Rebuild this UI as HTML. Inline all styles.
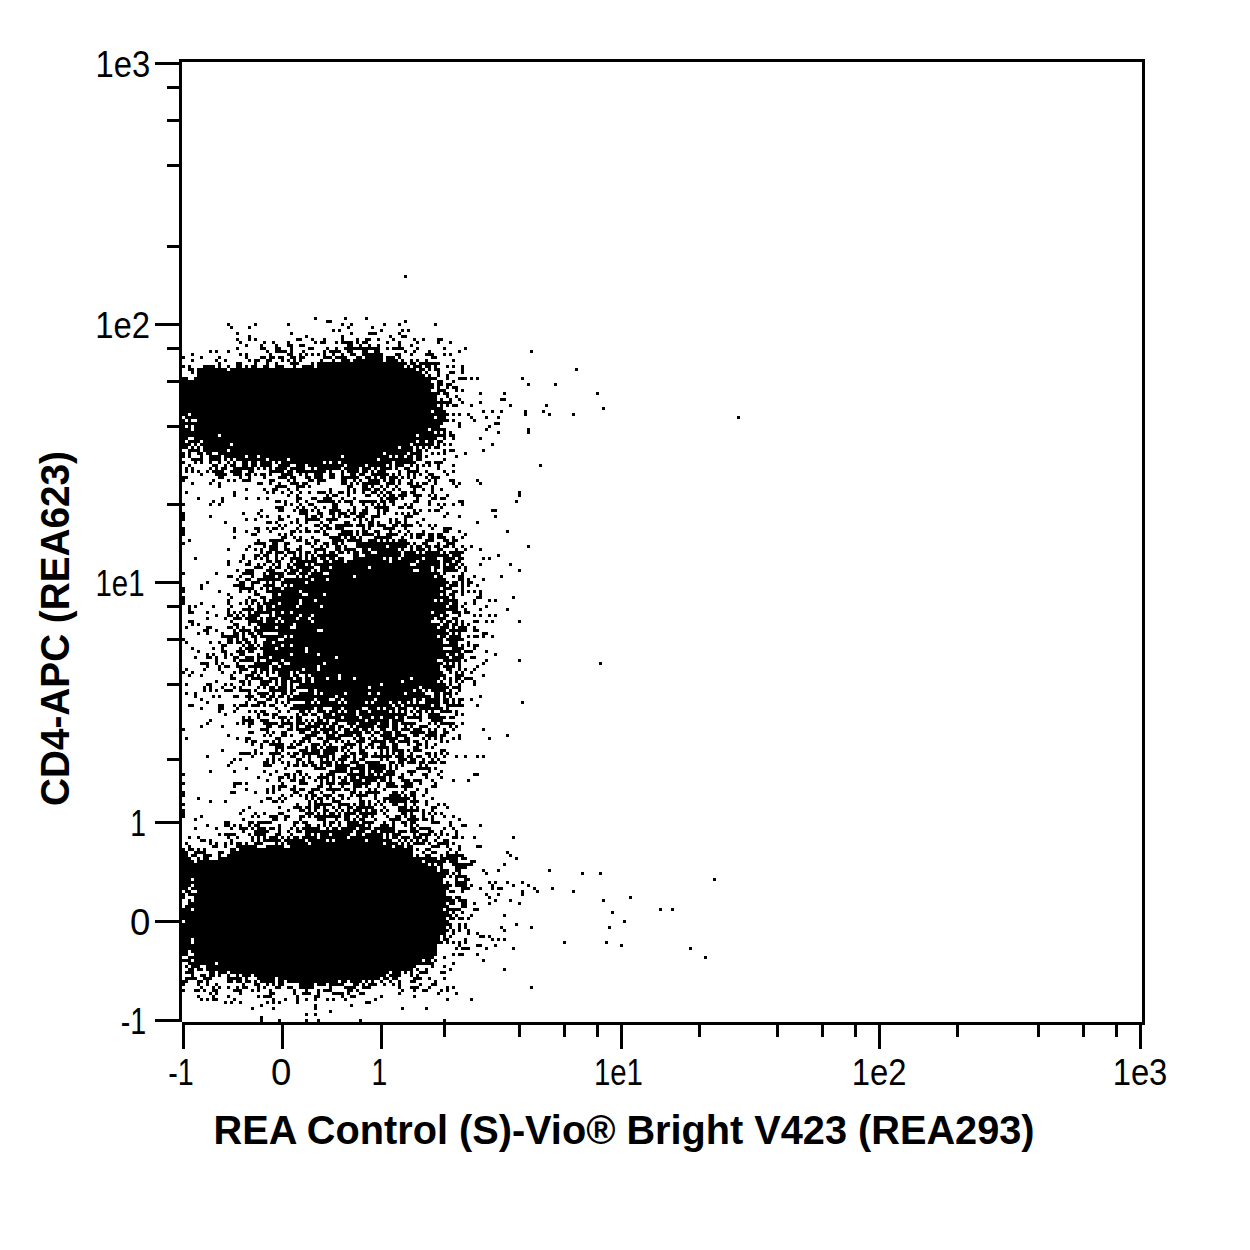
<!DOCTYPE html>
<html><head><meta charset="utf-8"><title>CD4-APC vs REA Control dot plot</title>
<style>html,body{margin:0;padding:0;background:#fff;width:1250px;height:1250px;overflow:hidden}svg{display:block}</style>
</head><body>
<svg width="1250" height="1250" viewBox="0 0 1250 1250">
<rect width="1250" height="1250" fill="#fff"/>
<path transform="translate(182 62) scale(3)" stroke="#000" stroke-width="1" fill="none" shape-rendering="crispEdges" d="M74 71.5h1M44 85.5h1m9 0h1m6 0h1M48 86.5h2m24 0h1M15 87.5h1m8 0h1m10 0h1m17 0h1m2 0h1m10 0h1m4 0h1m11 0h1M16 88.5h1m5 0h1m32 0h1m7 0h1M50 89.5h1m1 0h1m13 0h1m6 0h1m1 0h1M18 90.5h1m17 0h1m19 0h1m5 0h3m7 0h1M22 91.5h1m18 0h1m11 0h1m15 0h1m3 0h2M18 92.5h1m3 0h1m1 0h1m13 0h2m3 0h1m3 0h1m5 0h1m4 0h1m2 0h2m2 0h1m4 0h1m6 0h1m2 0h1m4 0h2M19 93.5h1m7 0h1m2 0h1m4 0h1m8 0h1m1 0h2m3 0h1m1 0h4m1 0h1m1 0h2m6 0h1m3 0h1m5 0h1m6 0h1m3 0h1M21 94.5h1m4 0h1m4 0h1m3 0h2m2 0h2m14 0h2m2 0h1m2 0h1m2 0h1m6 0h1m3 0h1M18 95.5h1m7 0h2m3 0h2m3 0h1m5 0h2m4 0h1m2 0h1m2 0h12m2 0h1m1 0h4m4 0h1m8 0h1m6 0h1M9 96.5h1m1 0h1m3 0h1m12 0h1m2 0h4m1 0h1m3 0h1m6 0h1m1 0h4m2 0h2m3 0h2m2 0h2m8 0h1m2 0h1m4 0h1m9 0h1m23 0h1M3 97.5h1m15 0h1m1 0h1m7 0h1m5 0h2m2 0h1m1 0h1m1 0h1m1 0h1m1 0h1m2 0h1m2 0h1m2 0h2m2 0h7m4 0h2m3 0h1m4 0h3m3 0h1m1 0h1M0 98.5h1m5 0h1m5 0h1m8 0h1m4 0h2m1 0h2m1 0h2m2 0h2m1 0h2m6 0h3m1 0h4m3 0h2m1 0h6m1 0h3m1 0h1m10 0h2M3 99.5h1m7 0h1m2 0h1m7 0h1m1 0h2m2 0h2m3 0h1m1 0h1m1 0h1m1 0h1m6 0h1m3 0h1m2 0h3m1 0h10m1 0h4m1 0h1m2 0h1m1 0h1m2 0h1m8 0h1M12 100.5h1m5 0h2m4 0h1m3 0h1m2 0h1m4 0h3m4 0h1m1 0h30m1 0h2m1 0h7M0 101.5h1m1 0h1m4 0h4m1 0h1m2 0h1m2 0h2m1 0h1m1 0h2m2 0h2m2 0h3m3 0h1m2 0h4m1 0h29m1 0h1m1 0h3m1 0h2m1 0h1m3 0h1m1 0h1m2 0h1M2 102.5h2m1 0h10m1 0h62m1 0h2m1 0h1m1 0h2m7 0h1m37 0h1M3 103.5h1m1 0h75m1 0h1m3 0h1m3 0h2m2 0h1M5 104.5h76m1 0h1m2 0h1m2 0h1M0 105.5h2m2 0h81m3 0h1m3 0h3m1 0h1m1 0h1m14 0h1M0 106.5h83m2 0h2m3 0h1M0 107.5h84m1 0h2m1 0h2m25 0h1m8 0h1M0 108.5h84m1 0h1m2 0h1m1 0h2M0 109.5h83m2 0h3m3 0h1m1 0h1M0 110.5h86m1 0h2m10 0h1m7 0h1m30 0h1M0 111.5h85m3 0h1m2 0h1M0 112.5h85m1 0h1m2 0h1m2 0h1m13 0h2M0 113.5h90m3 0h1m5 0h1M0 114.5h85m1 0h1m1 0h1m1 0h2m4 0h1m12 0h1m11 0h1M0 115.5h87m53 0h1M0 116.5h83m1 0h4m12 0h1m2 0h1m2 0h1m7 0h1m5 0h1M0 117.5h2m1 0h86m1 0h1m1 0h1m2 0h1m18 0h1m7 0h1m7 0h1M1 118.5h83m1 0h3m8 0h1m4 0h1m3 0h1m79 0h1M0 119.5h1m1 0h1m2 0h84m1 0h1m6 0h1M0 120.5h87m5 0h1m11 0h2M0 121.5h1m1 0h1m1 0h82m6 0h1m9 0h1M0 122.5h3m1 0h78m1 0h5m13 0h1m13 0h1M0 123.5h84m1 0h1m1 0h1m1 0h1m15 0h1m9 0h1M0 124.5h12m1 0h65m1 0h9m1 0h2M0 125.5h2m2 0h81m2 0h1m2 0h1m8 0h1M0 126.5h1m1 0h4m1 0h71m1 0h2m1 0h2m1 0h2M0 127.5h3m1 0h1m1 0h10m1 0h59m1 0h7m1 0h1m1 0h1m1 0h1m13 0h1M0 128.5h2m1 0h1m1 0h1m1 0h65m1 0h4m1 0h1m1 0h1m1 0h1m1 0h2M2 129.5h4m1 0h8m1 0h61m1 0h2m1 0h1m5 0h1m1 0h2m9 0h1M0 130.5h1m1 0h1m2 0h2m1 0h2m2 0h55m1 0h7m1 0h4m3 0h1m1 0h1m1 0h1m6 0h1M0 131.5h1m1 0h1m3 0h1m2 0h4m1 0h7m1 0h3m1 0h27m1 0h15m1 0h1m1 0h2m1 0h2m1 0h2m1 0h1m9 0h1M3 132.5h4m2 0h4m1 0h1m1 0h1m1 0h10m1 0h6m1 0h29m1 0h11m1 0h2m7 0h1M0 133.5h1m3 0h1m1 0h1m2 0h1m2 0h1m2 0h1m1 0h1m2 0h2m1 0h2m1 0h4m1 0h1m1 0h14m1 0h1m1 0h2m1 0h17m1 0h7m3 0h2m1 0h3M2 134.5h1m7 0h2m2 0h1m1 0h2m2 0h2m1 0h2m1 0h4m2 0h4m2 0h3m1 0h12m1 0h6m1 0h6m1 0h1m1 0h3m2 0h1m1 0h1m1 0h1m1 0h1m2 0h1m4 0h1m28 0h1M1 135.5h1m1 0h1m5 0h1m1 0h1m1 0h2m2 0h7m1 0h1m1 0h1m1 0h1m1 0h4m1 0h5m2 0h1m1 0h8m1 0h5m1 0h3m1 0h1m1 0h4m1 0h1m2 0h2m2 0h1m6 0h1M1 136.5h1m1 0h1m1 0h1m2 0h1m1 0h4m2 0h4m2 0h2m5 0h5m1 0h2m1 0h10m1 0h1m3 0h1m1 0h4m1 0h2m1 0h1m1 0h3m4 0h1m2 0h4m2 0h1m5 0h1m2 0h1M6 137.5h1m4 0h4m2 0h3m1 0h2m1 0h1m1 0h2m1 0h1m3 0h4m2 0h1m1 0h1m2 0h3m2 0h2m2 0h1m2 0h2m1 0h2m2 0h6m1 0h1m1 0h1m2 0h1m1 0h1m1 0h1m2 0h2m4 0h1M0 138.5h2m10 0h2m5 0h1m2 0h1m4 0h1m4 0h3m1 0h2m3 0h2m1 0h3m2 0h2m2 0h6m2 0h2m1 0h1m1 0h2m1 0h3m1 0h1m1 0h1m1 0h1m3 0h1m1 0h3M0 139.5h1m9 0h1m4 0h1m1 0h1m2 0h3m6 0h2m4 0h1m1 0h1m4 0h2m1 0h3m5 0h2m2 0h1m1 0h1m2 0h4m1 0h1m1 0h2m1 0h1m3 0h1m5 0h1m1 0h1m4 0h2m7 0h1M3 140.5h1m5 0h1m2 0h1m12 0h2m2 0h1m2 0h1m3 0h3m1 0h2m3 0h1m7 0h2m1 0h1m1 0h1m1 0h6m2 0h3m1 0h1m2 0h2m1 0h1m1 0h2m2 0h1m5 0h1m1 0h1m6 0h1M12 141.5h1m18 0h4m3 0h3m1 0h1m12 0h2m3 0h2m1 0h1m2 0h1m1 0h1m2 0h1m4 0h4m3 0h1m7 0h1M21 142.5h1m5 0h1m2 0h2m3 0h1m2 0h1m10 0h1m5 0h1m1 0h1m2 0h3m1 0h2m1 0h1m2 0h1m1 0h1m4 0h1m2 0h1m2 0h1m2 0h1M1 143.5h1m15 0h1m10 0h1m1 0h1m2 0h1m2 0h1m2 0h1m2 0h1m2 0h3m1 0h1m2 0h2m1 0h1m1 0h1m2 0h1m2 0h2m1 0h1m1 0h2m3 0h2m1 0h2m5 0h1m28 0h1M17 144.5h1m17 0h1m2 0h1m9 0h1m1 0h2m3 0h1m5 0h2m2 0h1m1 0h1m1 0h2m1 0h3m2 0h3m2 0h1m1 0h1m3 0h1m23 0h1M5 145.5h1m7 0h1m7 0h1m3 0h1m2 0h1m9 0h2m3 0h2m2 0h3m3 0h1m3 0h1m8 0h1m1 0h4m1 0h1m4 0h1m4 0h2m1 0h2M10 146.5h1m2 0h1m17 0h2m1 0h1m3 0h1m2 0h1m3 0h6m1 0h1m1 0h3m2 0h6m1 0h2m1 0h2m6 0h2m3 0h1m9 0h2m17 0h1M0 147.5h1m8 0h1m2 0h1m21 0h1m1 0h1m2 0h1m2 0h2m6 0h2m4 0h1m3 0h1m2 0h1m1 0h1m1 0h1m2 0h1m3 0h1m1 0h1m5 0h1m2 0h1m1 0h1m2 0h1m2 0h1M31 148.5h3m4 0h1m1 0h1m3 0h1m2 0h1m2 0h2m5 0h1m3 0h1m2 0h5m3 0h2m1 0h2m9 0h1M26 149.5h1m5 0h2m3 0h1m1 0h3m1 0h1m1 0h1m3 0h4m2 0h1m1 0h1m2 0h2m3 0h1m1 0h2m8 0h1m1 0h1m2 0h1m1 0h2m17 0h2M0 150.5h1m19 0h1m4 0h1m13 0h3m3 0h2m2 0h2m1 0h3m1 0h2m1 0h3m3 0h1m1 0h1m3 0h1m1 0h1m1 0h1m1 0h2m9 0h1M0 151.5h1m8 0h1m16 0h1m1 0h1m3 0h1m2 0h1m5 0h1m1 0h2m1 0h1m3 0h1m1 0h1m1 0h2m2 0h3m2 0h3m8 0h3m10 0h1m4 0h1m11 0h1M0 152.5h1m20 0h1m2 0h1m7 0h2m4 0h1m2 0h5m2 0h4m5 0h1m1 0h1m1 0h1m1 0h1m5 0h1m1 0h1m2 0h1m5 0h1M14 153.5h1m13 0h2m1 0h1m4 0h1m1 0h1m2 0h1m4 0h1m2 0h1m4 0h2m3 0h1m2 0h2m1 0h1m3 0h1m1 0h2m1 0h1m3 0h1m19 0h1M32 154.5h1m1 0h1m4 0h1m4 0h2m1 0h2m2 0h6m1 0h3m1 0h2m1 0h3m2 0h2m1 0h4m2 0h1m2 0h1m1 0h1M0 155.5h1m16 0h1m6 0h2m2 0h1m1 0h2m1 0h1m4 0h1m2 0h1m4 0h1m1 0h2m1 0h3m6 0h1m1 0h1m4 0h4m3 0h1m8 0h1m3 0h3M0 156.5h1m16 0h1m3 0h1m3 0h1m3 0h1m6 0h2m1 0h1m1 0h2m1 0h2m1 0h1m5 0h4m1 0h1m1 0h2m2 0h2m3 0h1m2 0h1m2 0h1m4 0h1m6 0h2m3 0h1m15 0h1M0 157.5h1m22 0h2m7 0h1m1 0h1m1 0h1m10 0h2m3 0h5m1 0h1m1 0h4m1 0h1m2 0h4m2 0h1m1 0h1m1 0h3m1 0h2m1 0h2m7 0h1M17 158.5h1m15 0h2m2 0h1m1 0h1m3 0h1m5 0h4m1 0h1m1 0h2m1 0h1m4 0h6m3 0h1m2 0h1m1 0h2m2 0h2m1 0h3m2 0h1m2 0h1M2 159.5h1m22 0h1m3 0h5m4 0h2m1 0h1m2 0h2m4 0h4m1 0h5m2 0h3m1 0h1m1 0h1m1 0h1m1 0h3m6 0h3m3 0h2m1 0h2M0 160.5h1m23 0h4m2 0h2m2 0h2m5 0h2m1 0h1m2 0h2m1 0h2m1 0h1m4 0h18m1 0h1m2 0h2m3 0h1m2 0h3M22 161.5h1m4 0h1m1 0h3m2 0h1m4 0h1m3 0h1m2 0h1m1 0h1m2 0h2m1 0h1m3 0h10m1 0h6m1 0h1m1 0h2m1 0h2m1 0h2m1 0h2m1 0h1m2 0h1m2 0h1m18 0h1M15 162.5h1m5 0h1m2 0h1m1 0h1m2 0h3m2 0h2m2 0h2m4 0h4m3 0h2m1 0h4m2 0h2m1 0h9m1 0h1m2 0h1m1 0h3m1 0h1m2 0h2m4 0h1m2 0h1m4 0h1M26 163.5h1m1 0h2m1 0h3m1 0h3m1 0h1m1 0h2m1 0h1m2 0h1m1 0h2m1 0h2m1 0h1m1 0h2m1 0h3m2 0h8m1 0h4m1 0h1m1 0h5m1 0h1m1 0h5M20 164.5h1m3 0h2m1 0h2m2 0h1m2 0h1m2 0h1m1 0h1m1 0h1m1 0h1m1 0h7m5 0h2m2 0h12m1 0h15m1 0h3m12 0h1M4 165.5h1m15 0h1m3 0h1m1 0h1m1 0h1m2 0h1m1 0h1m2 0h4m1 0h1m1 0h2m1 0h2m1 0h2m1 0h2m3 0h10m1 0h1m1 0h2m1 0h7m1 0h4m2 0h4m1 0h2m6 0h1m1 0h1M15 166.5h1m3 0h1m2 0h1m5 0h2m1 0h2m3 0h1m1 0h7m2 0h2m1 0h4m1 0h14m1 0h8m1 0h7m1 0h3m1 0h2M15 167.5h1m5 0h2m2 0h1m1 0h1m2 0h1m1 0h1m2 0h1m1 0h4m1 0h1m1 0h32m2 0h8m1 0h1m1 0h3m1 0h1m5 0h1m9 0h1M24 168.5h3m2 0h1m1 0h2m2 0h2m1 0h6m2 0h3m1 0h12m1 0h20m1 0h2m1 0h4m1 0h1m1 0h1M18 169.5h1m2 0h3m4 0h3m3 0h1m1 0h3m1 0h3m1 0h1m1 0h31m2 0h4m1 0h1m2 0h5m2 0h1m17 0h1M0 170.5h1m10 0h1m8 0h4m3 0h1m1 0h5m1 0h3m1 0h3m1 0h4m2 0h37m1 0h1m5 0h1M15 171.5h2m2 0h1m3 0h1m3 0h4m1 0h2m4 0h1m1 0h1m1 0h15m1 0h26m1 0h2m3 0h1m1 0h2m3 0h1m8 0h1M18 172.5h1m2 0h2m2 0h8m1 0h9m1 0h4m1 0h39m4 0h2m1 0h1m4 0h1M8 173.5h1m10 0h2m2 0h3m2 0h1m1 0h1m2 0h8m1 0h47m1 0h2m1 0h1m1 0h2M6 174.5h1m10 0h4m2 0h1m3 0h4m2 0h1m1 0h1m1 0h51m1 0h3m1 0h1m1 0h1m2 0h1M0 175.5h1m5 0h1m12 0h5m2 0h1m1 0h1m1 0h3m1 0h52m1 0h3m3 0h1M0 176.5h1m11 0h1m6 0h1m2 0h1m1 0h1m3 0h11m1 0h48m2 0h2m1 0h1m1 0h1m1 0h1m1 0h1M15 177.5h1m8 0h2m4 0h2m1 0h7m2 0h5m1 0h38m1 0h1m1 0h2m2 0h1m5 0h1M0 178.5h1m15 0h1m5 0h1m3 0h2m2 0h59m1 0h1m7 0h2m10 0h1M0 179.5h1m14 0h1m5 0h1m1 0h2m2 0h1m1 0h10m1 0h4m1 0h39m1 0h1m1 0h5m5 0h1m4 0h1m1 0h1M0 180.5h1m5 0h1m8 0h1m3 0h1m1 0h1m1 0h1m1 0h1m1 0h5m1 0h6m1 0h49m1 0h2m2 0h1m2 0h1M2 181.5h1m1 0h1m5 0h1m5 0h1m5 0h1m2 0h2m1 0h2m1 0h7m1 0h7m1 0h41m1 0h3m1 0h1m7 0h1M2 182.5h1m12 0h1m4 0h4m1 0h2m1 0h64m2 0h1m4 0h1m8 0h1M2 183.5h2m4 0h1m6 0h1m1 0h1m1 0h1m2 0h1m1 0h6m1 0h2m1 0h2m1 0h46m1 0h4m2 0h3m1 0h2M11 184.5h1m3 0h2m1 0h1m1 0h1m1 0h4m3 0h1m1 0h8m1 0h3m1 0h42m1 0h2m3 0h1m4 0h1m1 0h1m2 0h1m1 0h1M8 185.5h1m5 0h1m2 0h3m1 0h4m1 0h1m1 0h4m1 0h5m1 0h3m1 0h41m1 0h3m2 0h2M2 186.5h2m12 0h1m5 0h5m1 0h3m1 0h1m1 0h9m1 0h39m3 0h1m1 0h2m1 0h1m1 0h1m3 0h2m2 0h1m1 0h1m8 0h1M3 187.5h1m1 0h1m11 0h2m3 0h1m2 0h12m1 0h48m1 0h2m1 0h2m1 0h1m1 0h1M1 188.5h1m6 0h2m5 0h2m1 0h1m1 0h1m3 0h1m1 0h5m1 0h4m2 0h47m1 0h3m1 0h1m1 0h3m2 0h1M7 189.5h2m2 0h1m5 0h1m1 0h4m1 0h21m2 0h41m1 0h6m2 0h2M5 190.5h1m2 0h1m4 0h1m3 0h2m1 0h1m1 0h2m1 0h2m5 0h57m1 0h1m1 0h1m7 0h2M13 191.5h6m1 0h1m2 0h2m1 0h8m1 0h1m1 0h48m1 0h2m1 0h4m2 0h1m1 0h2m1 0h1m2 0h1M0 192.5h1m14 0h2m1 0h1m1 0h2m2 0h1m3 0h4m2 0h53m1 0h6M1 193.5h1m7 0h1m2 0h1m2 0h2m1 0h2m1 0h2m1 0h1m2 0h3m1 0h56m2 0h3m3 0h1M13 194.5h2m5 0h1m1 0h2m1 0h1m1 0h6m1 0h2m1 0h55m1 0h1m1 0h1m1 0h2M3 195.5h1m6 0h1m2 0h1m5 0h1m1 0h4m1 0h5m1 0h9m1 0h45m3 0h4m3 0h1M5 196.5h1m7 0h2m3 0h3m1 0h2m3 0h14m1 0h51m1 0h3m4 0h1M8 197.5h1m1 0h1m3 0h1m1 0h1m2 0h2m4 0h1m1 0h9m1 0h8m1 0h42m1 0h2m1 0h2m10 0h1M4 198.5h1m3 0h2m1 0h1m2 0h1m2 0h2m2 0h3m1 0h4m1 0h21m1 0h37m1 0h4m2 0h2M11 199.5h1m5 0h1m1 0h5m1 0h1m2 0h5m1 0h51m2 0h6m1 0h1m6 0h1m10 0h1M6 200.5h3m2 0h1m1 0h1m4 0h1m5 0h6m2 0h2m2 0h11m1 0h39m1 0h1m1 0h1m1 0h1m7 0h1m38 0h1M8 201.5h1m3 0h1m1 0h2m2 0h3m1 0h7m1 0h2m1 0h12m1 0h40m1 0h4m1 0h1m5 0h1M1 202.5h1m5 0h1m4 0h1m6 0h3m2 0h1m1 0h3m1 0h10m1 0h4m1 0h40m2 0h2m2 0h1m1 0h1m2 0h1M0 203.5h1m2 0h1m9 0h1m3 0h1m1 0h1m3 0h2m1 0h1m1 0h1m1 0h1m1 0h4m1 0h1m1 0h48m2 0h1m1 0h1m1 0h1m2 0h1M2 204.5h1m3 0h1m9 0h1m4 0h3m1 0h1m2 0h1m3 0h4m1 0h2m2 0h1m1 0h9m1 0h35m3 0h3m6 0h1M16 205.5h2m3 0h1m1 0h4m2 0h3m1 0h4m1 0h2m1 0h2m1 0h4m1 0h3m1 0h4m1 0h18m1 0h9m1 0h1m1 0h1m1 0h2m1 0h3M11 206.5h1m7 0h2m1 0h1m3 0h4m1 0h1m1 0h2m1 0h4m1 0h2m1 0h29m1 0h11m1 0h1m2 0h1m1 0h1m1 0h1m3 0h1M1 207.5h1m6 0h2m4 0h1m1 0h1m3 0h1m1 0h1m3 0h3m2 0h1m1 0h2m1 0h1m2 0h27m1 0h21m1 0h1m2 0h1m4 0h1M7 208.5h1m1 0h1m3 0h1m3 0h1m1 0h1m5 0h1m1 0h1m1 0h2m1 0h3m1 0h1m1 0h24m1 0h16m1 0h9m1 0h3M7 209.5h1m1 0h1m1 0h1m2 0h3m2 0h4m1 0h1m4 0h6m1 0h2m4 0h2m1 0h32m1 0h2m1 0h1m1 0h5m1 0h1m2 0h1M1 210.5h1m2 0h1m17 0h1m2 0h4m1 0h1m2 0h2m1 0h1m2 0h5m1 0h1m1 0h7m1 0h7m1 0h2m1 0h8m1 0h6m3 0h2m1 0h3m1 0h1M4 211.5h1m5 0h1m1 0h1m4 0h2m2 0h3m2 0h2m1 0h2m1 0h2m1 0h1m1 0h14m1 0h31m1 0h2m1 0h1m1 0h1m9 0h1M6 212.5h1m15 0h1m1 0h1m3 0h2m1 0h1m3 0h9m1 0h4m2 0h2m1 0h10m1 0h12m1 0h2m1 0h5m1 0h2m1 0h1m1 0h2m2 0h1M8 213.5h1m12 0h1m3 0h3m3 0h1m1 0h1m1 0h1m5 0h2m1 0h1m1 0h6m1 0h1m1 0h6m1 0h1m1 0h5m1 0h2m1 0h2m1 0h1m1 0h1m2 0h5m1 0h2m1 0h1m1 0h1m20 0h1M2 214.5h2m8 0h2m3 0h1m1 0h3m1 0h3m1 0h1m1 0h2m3 0h1m2 0h33m1 0h2m1 0h9m1 0h2m2 0h6m4 0h1M6 215.5h1m5 0h2m4 0h1m12 0h1m4 0h8m1 0h2m3 0h3m1 0h6m2 0h3m1 0h1m1 0h3m1 0h3m2 0h1m1 0h8m1 0h1M12 216.5h1m4 0h1m4 0h1m1 0h1m1 0h2m4 0h1m2 0h1m3 0h2m1 0h1m2 0h3m1 0h3m1 0h1m1 0h3m1 0h3m1 0h6m1 0h1m1 0h1m1 0h1m1 0h1m1 0h2m1 0h1m1 0h1m2 0h4m1 0h1M14 217.5h1m10 0h1m1 0h2m1 0h2m6 0h1m1 0h2m1 0h2m2 0h3m1 0h7m1 0h16m2 0h1m1 0h1m2 0h4m5 0h1m1 0h1M20 218.5h1m1 0h1m2 0h1m4 0h1m1 0h3m1 0h1m1 0h2m5 0h1m1 0h6m1 0h5m1 0h3m1 0h2m1 0h4m1 0h2m1 0h5m2 0h6m1 0h2M9 219.5h1m10 0h4m2 0h3m4 0h1m1 0h1m2 0h2m1 0h1m1 0h1m1 0h2m1 0h1m2 0h10m1 0h7m1 0h4m5 0h1m3 0h4M8 220.5h1m9 0h1m1 0h1m1 0h2m3 0h5m1 0h4m1 0h3m1 0h1m1 0h5m1 0h2m3 0h3m1 0h6m1 0h3m1 0h2m1 0h5m4 0h1m1 0h1m1 0h5m2 0h1M6 221.5h1m6 0h1m8 0h1m5 0h2m2 0h2m2 0h1m1 0h1m2 0h5m1 0h1m1 0h2m1 0h2m2 0h1m1 0h6m1 0h4m1 0h2m2 0h1m1 0h1m2 0h3m3 0h1m3 0h1m1 0h1M0 222.5h1m25 0h3m6 0h2m1 0h5m1 0h1m1 0h5m1 0h1m1 0h2m1 0h2m1 0h2m1 0h1m2 0h2m2 0h2m1 0h3m1 0h3m2 0h1m1 0h1m2 0h1m2 0h1m9 0h1M22 223.5h2m4 0h1m1 0h1m2 0h2m4 0h2m2 0h3m1 0h2m1 0h2m2 0h6m1 0h2m1 0h2m1 0h3m1 0h2m3 0h5m1 0h3m2 0h2M15 224.5h1m11 0h1m1 0h1m3 0h2m1 0h1m4 0h4m3 0h3m1 0h5m1 0h2m3 0h1m2 0h4m1 0h4m2 0h2m2 0h4m1 0h2m4 0h1m15 0h1M1 225.5h1m16 0h1m2 0h2m8 0h2m7 0h3m2 0h2m1 0h5m4 0h1m1 0h2m1 0h1m1 0h1m2 0h5m2 0h2m4 0h1m1 0h1m1 0h1m1 0h1m3 0h1m1 0h1m9 0h1M21 226.5h1m1 0h2m2 0h2m1 0h1m1 0h1m4 0h1m1 0h2m1 0h1m4 0h2m2 0h1m1 0h1m1 0h1m2 0h3m2 0h5m1 0h2m1 0h4m1 0h2m2 0h1m4 0h1m1 0h1M23 227.5h1m2 0h1m2 0h5m2 0h1m1 0h2m3 0h3m1 0h1m1 0h1m4 0h4m1 0h1m2 0h2m2 0h2m2 0h2m3 0h1m2 0h2m1 0h1m2 0h1M26 228.5h1m4 0h3m1 0h3m3 0h1m1 0h2m1 0h1m1 0h4m1 0h2m1 0h1m2 0h1m1 0h1m1 0h1m1 0h4m1 0h2m5 0h2m2 0h1m1 0h1M13 229.5h1m10 0h1m6 0h1m1 0h1m5 0h3m1 0h3m1 0h5m1 0h1m1 0h1m3 0h2m5 0h1m1 0h1m1 0h4m1 0h1m1 0h3m6 0h2M19 230.5h4m1 0h1m1 0h1m2 0h4m2 0h1m1 0h2m1 0h6m1 0h4m3 0h1m1 0h2m1 0h3m2 0h1m1 0h1m1 0h1m1 0h1m1 0h2m2 0h1m4 0h2m1 0h1m1 0h1m1 0h1M8 231.5h1m14 0h1m6 0h1m2 0h1m2 0h2m2 0h1m1 0h1m2 0h4m1 0h1m2 0h3m1 0h1m2 0h2m1 0h7m1 0h3m1 0h2m1 0h2m2 0h1m1 0h1m2 0h1m3 0h1m2 0h1m3 0h1m1 0h1M17 232.5h1m1 0h1m8 0h1m1 0h1m1 0h1m5 0h2m2 0h1m3 0h1m1 0h1m1 0h1m1 0h3m2 0h1m1 0h2m5 0h1m1 0h1m3 0h3m1 0h2m2 0h1m2 0h1m1 0h1M16 233.5h1m10 0h2m1 0h1m2 0h1m1 0h1m2 0h1m1 0h1m1 0h2m2 0h4m1 0h1m1 0h1m2 0h3m2 0h5m3 0h2m1 0h2m1 0h3m1 0h2m1 0h3m1 0h2M15 234.5h1m11 0h3m5 0h1m1 0h2m1 0h2m1 0h2m1 0h1m1 0h2m1 0h5m2 0h3m1 0h6m1 0h1m1 0h1m1 0h1m5 0h1m1 0h1M21 235.5h1m12 0h1m9 0h4m3 0h4m1 0h5m1 0h6m1 0h1m1 0h1m6 0h5m1 0h1M9 236.5h1m7 0h1m9 0h1m3 0h1m6 0h2m9 0h6m1 0h1m2 0h2m1 0h1m1 0h3m1 0h3m4 0h3m4 0h1m3 0h1M0 237.5h1m28 0h1m4 0h2m1 0h1m1 0h1m1 0h1m4 0h1m1 0h3m4 0h6m1 0h2m1 0h1m1 0h4m2 0h1m2 0h1m3 0h2m3 0h1m11 0h2M25 238.5h1m6 0h2m1 0h1m1 0h1m2 0h1m1 0h1m2 0h4m1 0h1m1 0h1m1 0h1m1 0h2m1 0h9m1 0h1m2 0h2m7 0h1m4 0h1M28 239.5h1m3 0h1m3 0h2m1 0h2m3 0h1m1 0h1m1 0h1m1 0h1m2 0h2m1 0h4m1 0h4m1 0h2m1 0h1m3 0h3m1 0h3m3 0h1m6 0h1m4 0h1M0 240.5h1m16 0h3m1 0h1m11 0h1m5 0h3m4 0h1m1 0h3m1 0h4m1 0h6m2 0h1m2 0h3m3 0h3m2 0h1m4 0h1M17 241.5h1m12 0h1m1 0h3m2 0h1m7 0h2m2 0h1m3 0h1m3 0h3m1 0h1m3 0h1m2 0h4m1 0h4m6 0h2M21 242.5h1m6 0h1m1 0h1m1 0h1m3 0h2m1 0h2m2 0h3m2 0h5m1 0h2m1 0h1m4 0h1m1 0h1m2 0h1m6 0h1m3 0h1m2 0h1M0 243.5h1m15 0h2m6 0h1m3 0h1m1 0h1m6 0h2m3 0h2m2 0h1m3 0h1m5 0h2m1 0h1m1 0h5m4 0h2m1 0h1m2 0h2m3 0h1M0 244.5h1m32 0h1m2 0h1m2 0h1m1 0h1m1 0h2m2 0h3m2 0h2m2 0h1m1 0h4m2 0h1m4 0h4m1 0h1m1 0h2m2 0h1M5 245.5h1m22 0h2m2 0h1m1 0h1m6 0h1m1 0h1m1 0h2m1 0h1m1 0h1m2 0h1m1 0h1m3 0h1m4 0h1m2 0h9m1 0h1m5 0h1M9 246.5h1m4 0h1m11 0h1m3 0h2m1 0h1m8 0h1m1 0h1m1 0h1m3 0h3m6 0h2m1 0h1m2 0h1m1 0h1m1 0h6m1 0h3m2 0h1M0 247.5h1m37 0h1m3 0h1m1 0h6m2 0h4m1 0h1m1 0h2m1 0h1m1 0h1m1 0h1m3 0h2m2 0h1m2 0h1m3 0h1m3 0h1m1 0h1M22 248.5h1m9 0h1m4 0h3m1 0h2m1 0h2m1 0h1m2 0h1m1 0h1m2 0h2m1 0h6m3 0h1m4 0h3m1 0h1m1 0h1m4 0h2m3 0h1M0 249.5h1m19 0h1m14 0h1m3 0h2m1 0h1m1 0h1m2 0h2m2 0h1m1 0h1m1 0h1m1 0h3m1 0h1m1 0h2m1 0h1m1 0h1m3 0h7m1 0h1m2 0h1M0 250.5h1m18 0h1m4 0h1m2 0h1m4 0h2m7 0h3m1 0h1m1 0h1m1 0h2m1 0h1m1 0h4m1 0h6m2 0h1m5 0h2m1 0h1m3 0h1m1 0h1m1 0h1m1 0h1M0 251.5h1m5 0h1m16 0h1m1 0h1m3 0h3m2 0h2m3 0h2m1 0h1m1 0h9m1 0h2m2 0h1m1 0h2m1 0h1m4 0h1m2 0h2m1 0h1m1 0h2m2 0h1m2 0h1m3 0h1m2 0h1M4 252.5h1m15 0h1m9 0h2m2 0h1m4 0h1m5 0h3m3 0h1m2 0h2m1 0h1m1 0h2m3 0h1m4 0h4m2 0h4m1 0h2m1 0h1m8 0h1M14 253.5h2m6 0h2m1 0h5m7 0h2m1 0h2m5 0h1m1 0h2m1 0h1m2 0h4m1 0h4m3 0h1m2 0h1m2 0h2m1 0h2m5 0h3m3 0h1M8 254.5h1m5 0h2m1 0h1m1 0h1m2 0h1m1 0h2m6 0h1m4 0h1m3 0h2m2 0h1m1 0h1m1 0h1m2 0h1m2 0h6m1 0h1m3 0h3m1 0h1m3 0h1m1 0h1m1 0h1m10 0h1m3 0h2m4 0h1M4 255.5h1m6 0h1m4 0h1m2 0h3m1 0h1m1 0h3m1 0h2m1 0h1m3 0h1m1 0h1m1 0h6m2 0h1m1 0h2m1 0h5m1 0h4m1 0h7m5 0h2m1 0h4m4 0h1m2 0h1M20 256.5h1m3 0h5m3 0h1m2 0h1m2 0h2m1 0h16m1 0h3m2 0h2m1 0h5m1 0h3m1 0h3m3 0h2m2 0h1m4 0h1M12 257.5h1m1 0h4m4 0h1m1 0h4m3 0h2m3 0h1m4 0h2m1 0h1m1 0h3m1 0h6m2 0h2m1 0h6m1 0h1m1 0h3m4 0h1m1 0h4m1 0h1m1 0h1m1 0h1m2 0h1M2 258.5h1m2 0h1m9 0h1m2 0h1m4 0h1m1 0h1m1 0h1m1 0h3m1 0h1m1 0h1m1 0h2m1 0h5m1 0h9m1 0h11m1 0h1m1 0h2m1 0h3m1 0h3m1 0h1m3 0h1m4 0h2m1 0h1m3 0h1m12 0h1M6 259.5h2m1 0h1m6 0h1m6 0h1m1 0h1m1 0h6m1 0h7m1 0h6m1 0h1m1 0h10m1 0h8m2 0h1m1 0h1m1 0h1m1 0h1m1 0h2m2 0h1m2 0h2M1 260.5h1m7 0h1m1 0h1m2 0h1m1 0h1m1 0h2m1 0h1m2 0h3m4 0h1m1 0h1m1 0h7m1 0h24m1 0h4m1 0h1m1 0h1m1 0h4m1 0h1m2 0h4m1 0h1M2 261.5h1m7 0h2m2 0h1m3 0h7m3 0h6m2 0h34m1 0h3m1 0h2m6 0h3m2 0h1m3 0h1m5 0h2M0 262.5h1m1 0h2m1 0h1m1 0h1m8 0h2m1 0h58m1 0h1m2 0h2m6 0h1m2 0h1M0 263.5h2m2 0h4m4 0h2m2 0h61m3 0h1m2 0h2m3 0h1m2 0h1m16 0h1M0 264.5h2m1 0h2m2 0h3m2 0h1m2 0h62m1 0h1m2 0h2m3 0h1m1 0h6m15 0h1M0 265.5h3m2 0h1m1 0h2m3 0h73m1 0h6m1 0h2m16 0h1M0 266.5h4m1 0h75m1 0h7m1 0h3m4 0h2M0 267.5h82m1 0h1m1 0h2m3 0h7m10 0h1M0 268.5h85m1 0h1m4 0h4M0 269.5h85m1 0h3m2 0h2m7 0h1m4 0h1m16 0h1M0 270.5h89m1 0h1m1 0h1m8 0h1m31 0h1m5 0h1M0 271.5h88m1 0h1m1 0h4M0 272.5h3m1 0h83m4 0h1m2 0h2m81 0h1M0 273.5h87m1 0h1m2 0h4m7 0h1m1 0h1m3 0h1m4 0h1M0 274.5h3m1 0h86m1 0h4m1 0h1m6 0h1m6 0h1m4 0h1M0 275.5h2m1 0h86m4 0h3m3 0h1m3 0h1m1 0h2m10 0h1m5 0h1M1 276.5h2m2 0h83m1 0h2m2 0h1m19 0h1m4 0h1m11 0h1M0 277.5h1m1 0h86m13 0h1m3 0h1m7 0h1M0 278.5h1m3 0h86m1 0h2m9 0h1m46 0h1M2 279.5h1m1 0h87m1 0h3m9 0h1m4 0h1m30 0h1M2 280.5h86m1 0h2m2 0h2m2 0h1m4 0h1m9 0h1M1 281.5h88m4 0h2M0 282.5h3m1 0h83m1 0h5m4 0h2m60 0h1m3 0h1M0 283.5h89m1 0h1m2 0h1m49 0h1M0 284.5h90m1 0h1m4 0h1m10 0h1M0 285.5h88m1 0h2m1 0h2m1 0h1M1 286.5h88m58 0h1M0 287.5h90m2 0h1m1 0h1m16 0h1M0 288.5h88m1 0h1m2 0h1m1 0h1m11 0h1m9 0h1m25 0h1M0 289.5h89m1 0h1m1 0h1m2 0h1m11 0h1M0 290.5h88m2 0h1m4 0h1m2 0h1M0 291.5h86m1 0h1m1 0h1m9 0h2m1 0h1M0 292.5h3m1 0h82m1 0h2m5 0h1m8 0h1m1 0h1m1 0h1M0 293.5h3m1 0h83m1 0h1m1 0h1m1 0h1m1 0h1m32 0h1m13 0h1M0 294.5h85m7 0h1m5 0h2m4 0h1m41 0h1M0 295.5h85m6 0h1m1 0h3m5 0h1m8 0h1m58 0h1M0 296.5h2m1 0h82M0 297.5h2m2 0h81m5 0h1m1 0h2m4 0h1M2 298.5h82m3 0h1m86 0h1M0 299.5h3m1 0h76m1 0h2m1 0h1m15 0h1M2 300.5h9m1 0h72m6 0h1M1 301.5h1m1 0h3m2 0h70m5 0h1m3 0h1M2 302.5h2m1 0h2m1 0h69m1 0h1m2 0h1m7 0h1m17 0h1M1 303.5h3m5 0h2m1 0h3m1 0h53m1 0h3m1 0h1m1 0h1m2 0h3m4 0h2M3 304.5h1m2 0h2m1 0h2m1 0h1m2 0h1m2 0h1m1 0h3m1 0h44m1 0h4m3 0h1m1 0h1M1 305.5h4m2 0h3m5 0h5m1 0h1m3 0h6m1 0h34m1 0h2m1 0h2m5 0h3m2 0h1m4 0h1M0 306.5h2m3 0h2m1 0h1m6 0h2m1 0h2m1 0h2m1 0h1m1 0h5m1 0h2m1 0h17m1 0h2m1 0h4m1 0h1m1 0h1m2 0h1m2 0h1m2 0h1m3 0h2m6 0h1M0 307.5h1m4 0h1m2 0h1m2 0h1m8 0h1m3 0h2m2 0h1m1 0h1m1 0h2m5 0h5m1 0h3m1 0h5m3 0h2m1 0h1m1 0h3m2 0h1m2 0h1m1 0h1m6 0h1m3 0h2M6 308.5h1m3 0h1m1 0h1m2 0h1m2 0h1m1 0h2m3 0h1m1 0h1m3 0h2m2 0h2m2 0h5m5 0h1m4 0h4m2 0h3m9 0h1m3 0h3m3 0h1m5 0h1m1 0h1m25 0h1M0 309.5h1m3 0h2m1 0h1m2 0h2m5 0h3m3 0h1m1 0h1m3 0h1m7 0h1m3 0h1m3 0h1m1 0h3m5 0h2m1 0h1m14 0h1m3 0h1m2 0h2m4 0h1m1 0h1M9 310.5h1m1 0h1m7 0h1m9 0h2m6 0h1m2 0h3m2 0h1m4 0h4m1 0h1m3 0h2m11 0h1m12 0h1m5 0h1M5 311.5h1m4 0h1m4 0h1m9 0h1m1 0h3m8 0h1m5 0h2m7 0h1m2 0h2m8 0h1m10 0h1M6 312.5h1m1 0h1m1 0h2m5 0h1m12 0h1m3 0h1m3 0h1m2 0h1m2 0h1m3 0h1m1 0h1m3 0h1m9 0h1m23 0h1m7 0h1M14 313.5h1m1 0h1m2 0h1m8 0h1m1 0h1m1 0h1m5 0h1m22 0h2M26 314.5h1m17 0h1m11 0h1M23 315.5h1m6 0h1m13 0h1m28 0h1m7 0h1M49 316.5h1M41 317.5h1m2 0h1M26 318.5h1M26 319.5h1m5 0h1m8 0h1m3 0h1m13 0h1m27 0h1"/>
<g fill="#000" shape-rendering="crispEdges"><rect x="179.2" y="59.2" width="963.8" height="2.8"/><rect x="179.2" y="59.2" width="2.8" height="962.8"/><rect x="1142.2" y="59.2" width="2.8" height="965.8"/><rect x="182" y="1022.2" width="963" height="2.8"/><rect x="155" y="62.1" width="25" height="2.8"/><rect x="155" y="323.1" width="25" height="2.8"/><rect x="155" y="581.1" width="25" height="2.8"/><rect x="155" y="821.1" width="25" height="2.8"/><rect x="155" y="920.1" width="25" height="2.8"/><rect x="155" y="1019.1" width="25" height="2.8"/><rect x="167" y="86.1" width="13" height="2.8"/><rect x="167" y="119.1" width="13" height="2.8"/><rect x="167" y="164.1" width="13" height="2.8"/><rect x="167" y="245.1" width="13" height="2.8"/><rect x="167" y="347.1" width="13" height="2.8"/><rect x="167" y="380.1" width="13" height="2.8"/><rect x="167" y="425.1" width="13" height="2.8"/><rect x="167" y="503.1" width="13" height="2.8"/><rect x="167" y="605.1" width="13" height="2.8"/><rect x="167" y="638.1" width="13" height="2.8"/><rect x="167" y="683.1" width="13" height="2.8"/><rect x="167" y="758.1" width="13" height="2.8"/><rect x="182.1" y="1024" width="2.8" height="25"/><rect x="281.1" y="1024" width="2.8" height="25"/><rect x="380.1" y="1024" width="2.8" height="25"/><rect x="620.1" y="1024" width="2.8" height="25"/><rect x="878.1" y="1024" width="2.8" height="25"/><rect x="1139.1" y="1024" width="2.8" height="25"/><rect x="443.1" y="1024" width="2.8" height="12.5"/><rect x="518.1" y="1024" width="2.8" height="12.5"/><rect x="563.1" y="1024" width="2.8" height="12.5"/><rect x="596.1" y="1024" width="2.8" height="12.5"/><rect x="698.1" y="1024" width="2.8" height="12.5"/><rect x="776.1" y="1024" width="2.8" height="12.5"/><rect x="821.1" y="1024" width="2.8" height="12.5"/><rect x="854.1" y="1024" width="2.8" height="12.5"/><rect x="956.1" y="1024" width="2.8" height="12.5"/><rect x="1037.1" y="1024" width="2.8" height="12.5"/><rect x="1082.1" y="1024" width="2.8" height="12.5"/><rect x="1115.1" y="1024" width="2.8" height="12.5"/></g>
<g style="font-family:'Liberation Sans',Arial,sans-serif;font-size:37.7px" text-anchor="middle" fill="#000"><text transform="translate(122.9 76.7) scale(0.87 1)">1e3</text><text transform="translate(122.6 337.7) scale(0.87 1)">1e2</text><text transform="translate(120.0 595.7) scale(0.78 1)">1e1</text><text transform="translate(138.2 835.7) scale(0.75 1)">1</text><text transform="translate(140.2 934.7) scale(0.97 1)">0</text><text transform="translate(133.5 1033.7) scale(0.76 1)">-1</text><text transform="translate(181.0 1085) scale(0.76 1)">-1</text><text transform="translate(281.1 1085) scale(0.97 1)">0</text><text transform="translate(379.3 1085) scale(0.75 1)">1</text><text transform="translate(618.4 1085) scale(0.78 1)">1e1</text><text transform="translate(879.2 1085) scale(0.87 1)">1e2</text><text transform="translate(1140.0 1085) scale(0.87 1)">1e3</text></g>
<text x="624" y="1144" text-anchor="middle" style="font-family:'Liberation Sans',Arial,sans-serif;font-weight:bold;font-size:40.5px" fill="#000" textLength="821" lengthAdjust="spacingAndGlyphs">REA Control (S)-Vio® Bright V423 (REA293)</text><text transform="translate(69 628.5) rotate(-90)" text-anchor="middle" style="font-family:'Liberation Sans',Arial,sans-serif;font-weight:bold;font-size:40.5px" fill="#000" textLength="355" lengthAdjust="spacingAndGlyphs">CD4-APC (REA623)</text>
</svg>
</body></html>
